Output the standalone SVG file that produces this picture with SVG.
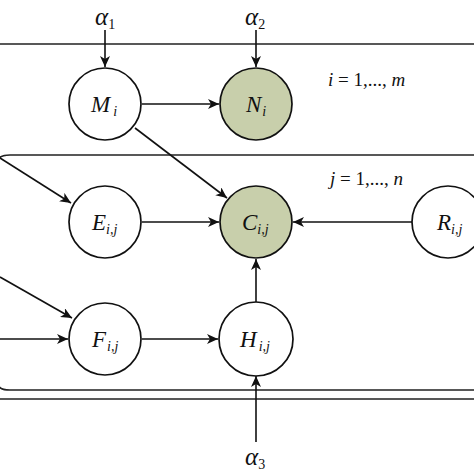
<svg xmlns="http://www.w3.org/2000/svg" width="474" height="474" viewBox="0 0 474 474" font-family="'Liberation Serif', 'Times New Roman', serif">
<style>
.plate{fill:none;stroke:#222;stroke-width:1.7}
.node{stroke:#111;stroke-width:1.7;fill:#fff}
.obs{fill:#c8cfab}
.edge{stroke:#111;stroke-width:1.6;fill:none;marker-end:url(#ah)}
text{font-family:"Liberation Serif","Times New Roman",serif;font-style:italic;fill:#111}
.lab{font-size:23px}
.sub{font-size:14px;font-style:normal}
.subi{font-size:14px}
.al{font-size:25px}
.pl{font-size:19px}
</style>
<defs>
<marker id="ah" markerWidth="12" markerHeight="10" refX="11" refY="5" orient="auto" markerUnits="userSpaceOnUse">
<path d="M0,0 L11,5 L0,10 L3,5 Z" fill="#111"/>
</marker>
</defs>
<rect fill="#fff" width="474" height="474"/>
<g id="plates">
<path class="plate" d="M-20,44 H480 M-20,399 H480"/>
<path class="plate" d="M480,155 H10 Q0,155 -2,160 M480,390 H10 Q0,390 -2,385"/>
</g>
<g id="connectors">
<line class="edge" x1="105" y1="30" x2="105" y2="67"/>
<line class="edge" x1="256" y1="30" x2="256" y2="67"/>
<line class="edge" x1="142" y1="104" x2="219" y2="104"/>
<line class="edge" x1="135" y1="128" x2="227" y2="198"/>
<line class="edge" x1="0" y1="158" x2="71" y2="203"/>
<line class="edge" x1="142" y1="222" x2="219" y2="222"/>
<line class="edge" x1="412" y1="222" x2="293" y2="222"/>
<line class="edge" x1="256" y1="303" x2="256" y2="259"/>
<line class="edge" x1="0" y1="277" x2="72" y2="318"/>
<line class="edge" x1="0" y1="339" x2="68" y2="339"/>
<line class="edge" x1="142" y1="339" x2="218" y2="339"/>
<line class="edge" x1="256" y1="442" x2="256" y2="376"/>
</g>
<g id="alpha1"><text class="al" x="95" y="25">α<tspan class="sub" dy="4">1</tspan></text></g>
<g id="alpha2"><text class="al" x="245" y="25">α<tspan class="sub" dy="4">2</tspan></text></g>
<g id="alpha3"><text class="al" x="245" y="465">α<tspan class="sub" dy="4">3</tspan></text></g>
<g id="M"><circle class="node" cx="105" cy="104" r="36"/><text class="lab" x="91" y="112">M<tspan class="subi" dx="3" dy="4">i</tspan></text></g>
<g id="N"><circle class="node obs" cx="256" cy="104" r="36"/><text class="lab" x="246" y="112">N<tspan class="subi" dx="1" dy="4">i</tspan></text></g>
<g id="E"><circle class="node" cx="105" cy="222" r="36"/><text class="lab" x="92" y="230">E<tspan class="subi" dy="4">i,j</tspan></text></g>
<g id="C"><circle class="node obs" cx="256" cy="222" r="36"/><text class="lab" x="242" y="230">C<tspan class="subi" dy="4">i,j</tspan></text></g>
<g id="R"><circle class="node" cx="448" cy="222" r="36"/><text class="lab" x="437" y="230">R<tspan class="subi" dy="4">i,j</tspan></text></g>
<g id="F"><circle class="node" cx="105" cy="339" r="36"/><text class="lab" x="92" y="347">F<tspan class="subi" dx="1" dy="4">i,j</tspan></text></g>
<g id="H"><circle class="node" cx="256" cy="339" r="37"/><text class="lab" x="240" y="347">H<tspan class="subi" dx="2" dy="4">i,j</tspan></text></g>
<g id="plate-i"><text class="pl" x="328" y="86">i<tspan font-style="normal"> = 1,..., </tspan>m</text></g>
<g id="plate-j"><text class="pl" x="330" y="185">j<tspan font-style="normal"> = 1,..., </tspan>n</text></g>
</svg>
